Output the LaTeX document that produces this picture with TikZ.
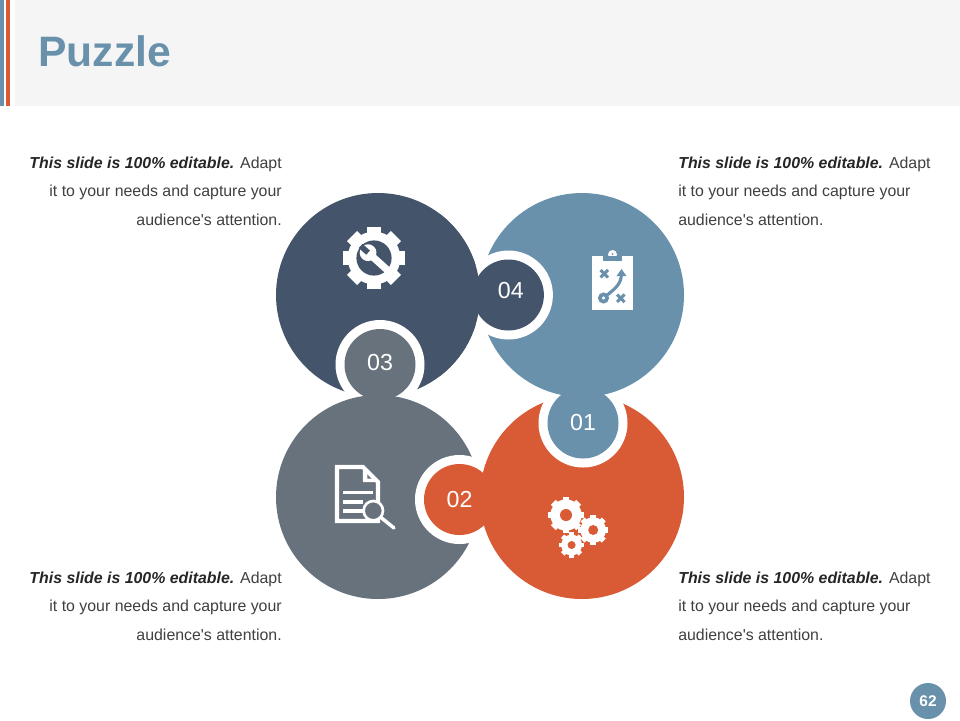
\documentclass[tikz,border=0pt]{standalone}
\usepackage{fontspec}
\usepackage{xcolor}
\setmainfont{Liberation Sans}
\usetikzlibrary{positioning}

\definecolor{navyc}{HTML}{44546A}
\definecolor{bluec}{HTML}{6991AC}
\definecolor{grayc}{HTML}{67727C}
\definecolor{orangec}{HTML}{D95B35}
\definecolor{barc}{HTML}{F5F5F5}
\definecolor{bodyc}{HTML}{404040}

% cog: x, y, outer radius, root radius, hole radius, tooth width, number of teeth, hole colour
\newcommand{\drawcog}[8]{
  \begin{scope}[shift={(#1,#2)}]
    \pgfmathsetmacro{\toothstep}{360/#7}
    \foreach \i in {1,...,#7} {
      \draw[white, line width=#6cm] (0,0) -- ({\i*\toothstep}:#3);
    }
    \fill[white] (0,0) circle (#4);
    \fill[#8] (0,0) circle (#5);
  \end{scope}
}
\newcommand{\blurbtext}{\textbf{\textit{\textcolor{black!85}{This slide is 100\% editable.}}} Adapt\\it to your needs and capture your\\audience\textquotesingle s attention.}

\begin{document}
\begin{tikzpicture}[
    bigdisc/.style={circle, minimum size=5.1cm, inner sep=0pt},
    ringdisc/.style={circle, fill=white, minimum size=2.225cm, inner sep=0pt},
    numdisc/.style={circle, minimum size=1.775cm, inner sep=0pt, text=white, font=\fontsize{16.5}{20}\selectfont},
    blurbl/.style={anchor=north east, align=right, inner sep=0pt, text=bodyc, font=\fontsize{11.3}{20.3}\selectfont},
    blurbr/.style={anchor=north west, align=left, inner sep=0pt, text=bodyc, font=\fontsize{11.3}{20.3}\selectfont},
    cross/.style={bluec, line width=2.1pt}
]
\useasboundingbox (0,0) rectangle (24,-18);
\fill[white] (0,0) rectangle (24,-18);

% header
\fill[barc] (0.375,0) rectangle (24,-2.65);
\fill[bluec] (0,0) rectangle (0.1,-2.65);
\fill[orangec] (0.15,0) rectangle (0.25,-2.65);
\node[anchor=base west, inner sep=0pt, text=bluec, font=\fontsize{30.3}{36}\selectfont\bfseries] (title) at (0.95,-1.65) {Puzzle};

% discs, each ring lies over one neighbour and under the next
\node[bigdisc, fill=navyc] (d3) at (9.45,-7.375) {};
\node[ringdisc] (r3) at (9.5,-9.1125) {};
\node[bigdisc, fill=grayc] (d2) at (9.45,-12.425) {};
\node[ringdisc] (r2) at (11.4875,-12.4875) {};
\node[bigdisc, fill=orangec] (d1) at (14.55,-12.425) {};
\node[ringdisc] (r1) at (14.575,-10.575) {};
\node[bigdisc, fill=bluec] (d4) at (14.55,-7.375) {};
\node[ringdisc] (r4) at (12.71,-7.375) {};
\begin{scope}
  \clip (11,-4) rectangle (13,-11);
  \fill[navyc] (d3.center) circle (2.55);
\end{scope}

% numbers
\node[numdisc, fill=grayc] (n3) at (r3) {};
\node[numdisc] (l3) at (9.5,-9.06) {03};
\node[numdisc, fill=orangec] (n2) at (r2) {02};
\node[numdisc, fill=bluec] (n1) at (r1) {01};
\node[numdisc, fill=navyc] (n4) at (r4) {};
\node[numdisc] (l4) at (12.77,-7.26) {04};

% wrench icon
\drawcog{9.35}{-6.45}{0.775}{0.66}{0.44}{0.36}{8}{navyc}
\begin{scope}[shift={(9.35,-6.45)}, rotate=-42]
  \draw[white, line width=0.18cm] (-0.1,0) -- (0.55,0);
  \fill[white] (-0.2,0) circle (0.21);
  \fill[navyc] (-0.45,-0.07) rectangle (-0.2,0.07);
\end{scope}

% clipboard icon
\begin{scope}[shift={(14.8,-6.425)}, x=0.025cm, y=-0.025cm]
  \fill[white] (0,-1) rectangle (41,53);
  \fill[white] (20.5,-2.5) circle (4.5);
  \fill[bluec] (11,-1) rectangle (30,3.5);
  \fill[bluec] (20.5,-3) circle (1);
  \draw[cross] (8.5,13) -- (16,20.5) (16,13) -- (8.5,20.5);
  \draw[cross] (25,37.5) -- (32.5,45) (32.5,37.5) -- (25,45);
  \draw[bluec, line width=2.6pt] (11.5,41) circle (3.6);
  \draw[bluec, line width=2.2pt] (14.5,38.5) .. controls (24,31) and (29,27) .. (29.5,17);
  \fill[bluec] (29.5,12) -- (34.5,19) -- (24.5,19) -- cycle;
\end{scope}

% document icon
\begin{scope}[shift={(8.375,-11.625)}, x=0.025cm, y=-0.025cm]
  \fill[white] (28,2) -- (44,17) -- (28,17) -- cycle;
  \fill[grayc] (32.5,8) -- (32.5,13.5) -- (38.5,13.5) -- cycle;
  \draw[white, line width=2.9pt, line join=miter] (2,2) -- (28,2) -- (43,17) -- (43,56) -- (2,56) -- cycle;
  \foreach \ypos/\xend in {27.5/38,37/28,46/28} {
    \draw[white, line width=2.35pt] (8,\ypos) -- (\xend,\ypos);
  }
  \draw[white, fill=grayc, line width=1.9pt] (38.3,45.7) circle (9.7);
  \draw[white, line width=2.5pt, line cap=round] (46,52.5) -- (59,63);
\end{scope}

% gears icon
\drawcog{14.15}{-12.875}{0.45}{0.39}{0.15}{0.17}{8}{orangec}
\drawcog{14.83}{-13.25}{0.375}{0.32}{0.125}{0.14}{8}{orangec}
\drawcog{14.29}{-13.625}{0.315}{0.26}{0.1}{0.12}{8}{orangec}

% texts
\node[blurbl] (t1) at (7.05,-3.91) {\blurbtext};
\node[blurbr] (t2) at (16.95,-3.91) {\blurbtext};
\node[blurbl] (t3) at (7.05,-14.285) {\blurbtext};
\node[blurbr] (t4) at (16.95,-14.285) {\blurbtext};

% page number
\node[circle, fill=bluec, minimum size=0.9cm, inner sep=0pt, text=white, font=\fontsize{11}{13}\selectfont\bfseries] (page) at (23.2,-17.525) {62};

\end{tikzpicture}
\end{document}
